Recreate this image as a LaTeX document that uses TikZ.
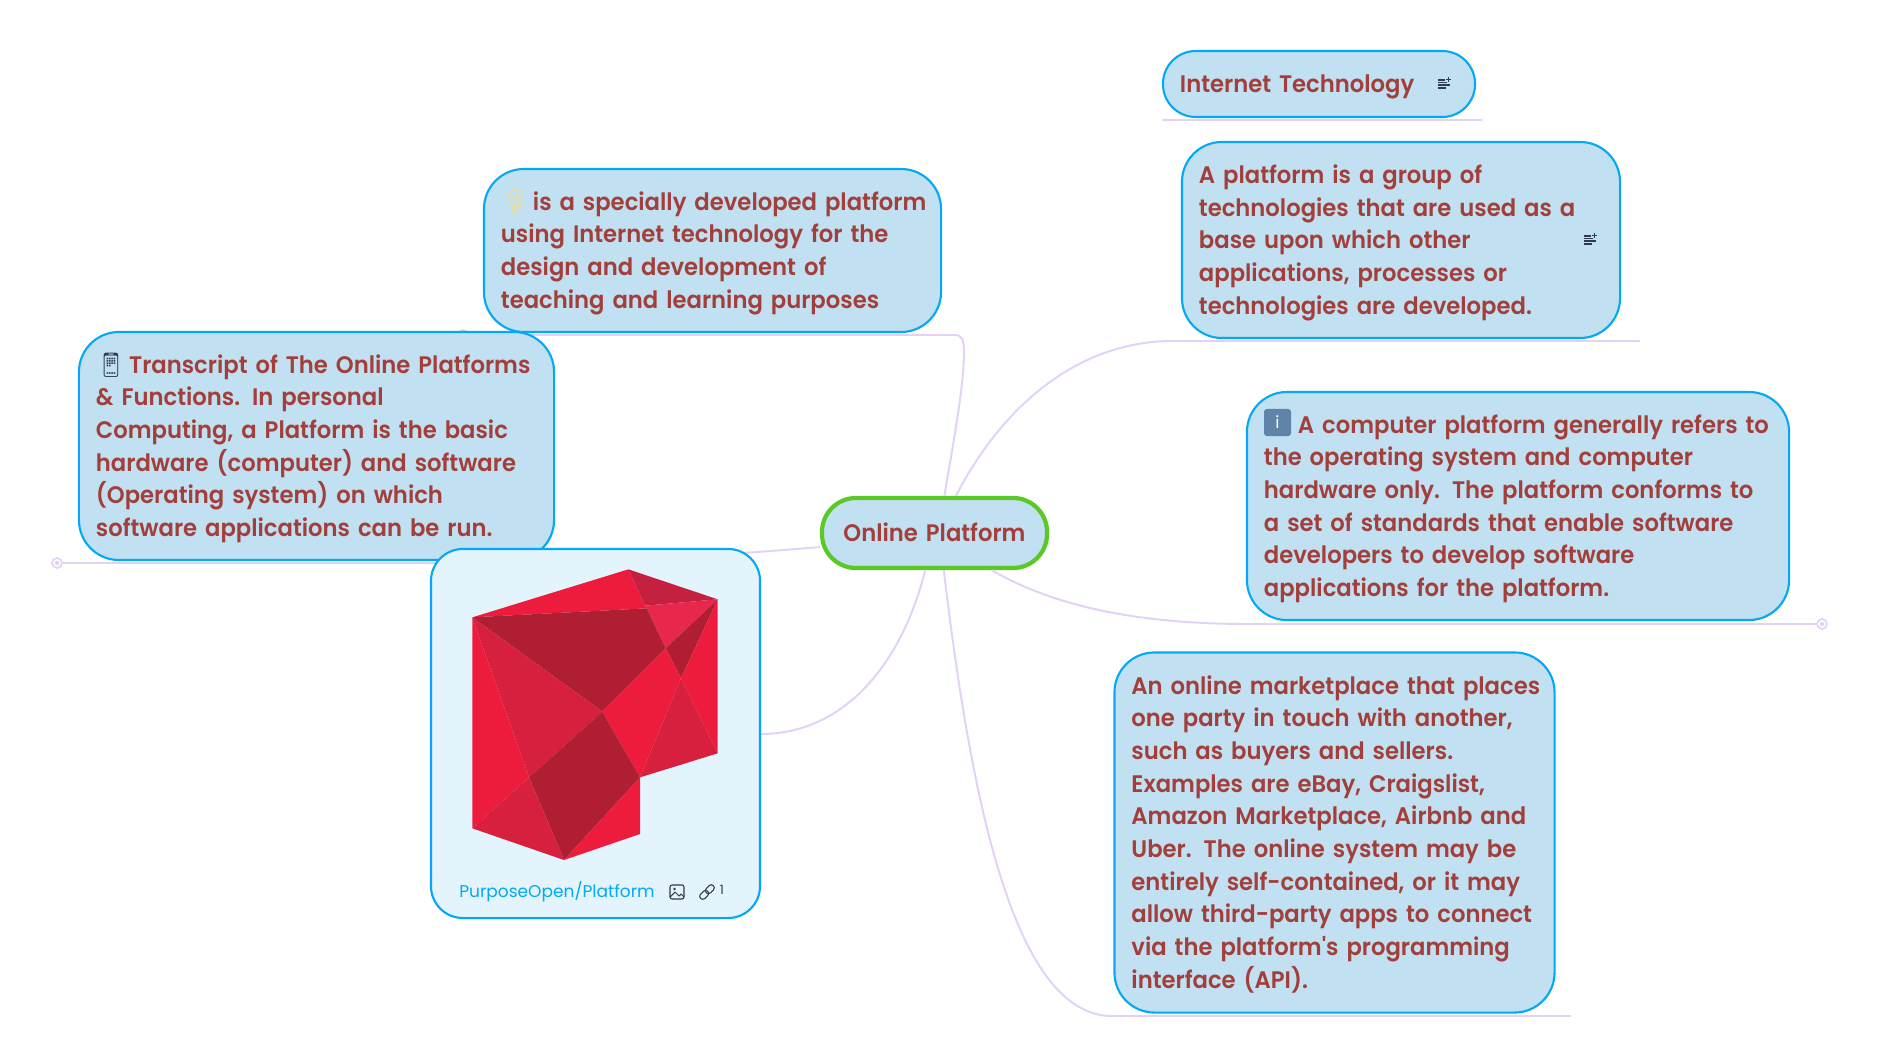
\documentclass[tikz,border=0pt]{standalone}
\usepackage{fontspec}
\usepackage{xcolor}
\usetikzlibrary{positioning,calc}
\newfontfamily\topicfont{Poppins SemiBold}[FakeStretch=0.95,WordSpace=0.75]
\newfontfamily\labelfont{Poppins}
\newfontfamily\emojifont{Noto Emoji}
\hyphenpenalty=10000
\exhyphenpenalty=10000
\newcommand{\linestrut}{\rule[-5.4pt]{0pt}{23.23pt}}
\definecolor{boxfill}{HTML}{C1E0F1}
\definecolor{boxline}{HTML}{03A9F4}
\definecolor{cardfill}{HTML}{E3F4FD}
\definecolor{hubline}{HTML}{5AC825}
\definecolor{topictext}{HTML}{A33F3A}
\definecolor{linklav}{HTML}{E2D2F6}
\definecolor{icondark}{HTML}{2F3B4C}
\definecolor{infoblue}{HTML}{5F84A8}
\definecolor{bulbpale}{HTML}{F5DC8A}
\definecolor{rubybright}{HTML}{EE1C3C}
\definecolor{rubymid}{HTML}{D6203D}
\definecolor{rubydark}{HTML}{B01E33}
\definecolor{rubyplum}{HTML}{C4203F}
\definecolor{rubylight}{HTML}{E8274D}
\tikzset{
  topic/.style={rectangle, draw=boxline, fill=boxfill, line width=1.5pt, rounded corners=1cm,
    text=topictext, align=left, inner xsep=0.425cm, inner ysep=0pt,
    execute at begin node=\linestrut, execute at end node=\linestrut,
    font=\topicfont\fontsize{17}{23.23}\selectfont},
  hub/.style={topic, draw=hubline, line width=3pt, rounded corners=0.85cm, align=center},
  imagecard/.style={rectangle, draw=boxline, fill=cardfill, line width=1.5pt, rounded corners=0.8cm},
  linkline/.style={draw=linklav, line width=1.4pt},
  endmark/.style={circle, draw=linklav, fill=white, line width=1.2pt, inner sep=0pt, minimum size=0.25cm,
    path picture={\fill[linklav] (path picture bounding box.center) circle (1.6pt);}},
  iconline/.style={draw=icondark, line width=0.75pt},
  noteicon/.pic={
    \draw[icondark, line width=0.9pt] (0,3)--(7,3) (0,5.7)--(9,5.7) (0,8)--(12,8) (0,11)--(8,11);
    \draw[icondark, line width=0.8pt] (10.5,0)--(10.5,5) (8,2.5)--(13,2.5);
  }
}
\begin{document}
\begin{tikzpicture}[x=0.025cm,y=-0.025cm]
\useasboundingbox (0,0) rectangle (1879,1063);

\node[hub, text width=4.775cm, minimum height=1.75cm] (central) at (934.5,533) {Online Platform};

\node[endmark] (dotleft) at (57,563) {};
\node[endmark] (dottop) at (463,335) {};
\node[endmark] (dotright) at (1822,624) {};
\coordinate (techleft) at (1162,120);
\coordinate (techright) at (1482,120);
\coordinate (specialcorner) at (955,335);
\coordinate (platformfoot) at (1173,341);
\coordinate (platformend) at (1640,341);
\coordinate (infofoot) at (1248,624);
\coordinate (marketfoot) at (1112,1016);
\coordinate (marketend) at (1571,1016);
\coordinate (cardside) at (761,734);

\draw[linkline] (techleft) -- (techright);
\draw[linkline] (central.75) .. controls (950,460) and (964,390) .. (964,352) .. controls (964,340) and (962,335) .. (specialcorner) -- (dottop);
\draw[linkline] (central.60) .. controls (1000,410) and (1075,341) .. (platformfoot) -- (platformend);
\draw[linkline] (central.-33) .. controls (1060,610) and (1150,624) .. (infofoot) -- (dotright);
\draw[linkline] (central.-76) .. controls (970,790) and (1012,1016) .. (marketfoot) -- (marketend);
\draw[linkline] (central.256) .. controls (900,670) and (840,734) .. (cardside);
\draw[linkline] (central.187) .. controls (700,557) and (600,563) .. (450,563) -- (dotleft);

\node[topic, text width=11.025cm, minimum height=5.7cm] (transcript) at (316.5,446) {\makebox[0.83cm][l]{\emojifont\textcolor{icondark}{📱}}Transcript of The Online Platforms\\
\& Functions. In personal\\
Computing, a Platform is the basic\\
hardware (computer) and software\\
(Operating system) on which\\
software applications can be run.};
\node[topic, text width=10.575cm, minimum height=4.075cm] (special) at (712.5,250.5) {\mbox{\makebox[0.8cm][l]{\emojifont\textcolor{bulbpale}{💡}}is a specially developed platform}\\
using Internet technology for the\\
design and development of\\
teaching and learning purposes};
\node[topic, text width=6.95cm, minimum height=1.65cm, rounded corners=0.82cm] (technology) at (1319,84) {Internet Technology};
\node[topic, text width=10.1cm, minimum height=4.9cm] (platform) at (1401,240) {A platform is a group of\\
technologies that are used as a\\
base upon which other\\
applications, processes or\\
technologies are developed.};
\node[topic, text width=12.7cm, minimum height=5.7cm] (computer) at (1518,506) {\mbox{\hspace{0.85cm}A computer platform generally refers to}\\
the operating system and computer\\
hardware only. The platform conforms to\\
a set of standards that enable software\\
developers to develop software\\
applications for the platform.};
\node[topic, text width=10.15cm, minimum height=9cm] (market) at (1334.5,832.5) {\mbox{An online marketplace that places}\\
one party in touch with another,\\
such as buyers and sellers.\\
Examples are eBay, Craigslist,\\
Amazon Marketplace, Airbnb and\\
Uber. The online system may be\\
entirely self-contained, or it may\\
allow third-party apps to connect\\
via the platform's programming\\
interface (API).};
\node[rectangle, fill=infoblue, rounded corners=2pt, text=white, inner sep=0pt, minimum size=0.675cm, font=\labelfont\fontsize{12}{12}\selectfont] (infomark) at (1277.5,422.5) {i};

\pic at (1438,77) {noteicon};
\pic at (1584,233) {noteicon};

\node[imagecard, minimum width=8.225cm, minimum height=9.225cm] (card) at (595.5,733.5) {};
\begin{scope}[shift={(420,540)},x=0.008333cm,y=-0.008333cm]
\coordinate (pa) at (157,232);
\coordinate (pb) at (625,88);
\coordinate (pc) at (893,178);
\coordinate (pd) at (893,640);
\coordinate (pe) at (660,712);
\coordinate (pf) at (660,882);
\coordinate (pg) at (432,960);
\coordinate (ph) at (157,865);
\coordinate (pi) at (680,205);
\coordinate (pj) at (737,325);
\coordinate (pk) at (783,415);
\coordinate (pl) at (547,515);
\coordinate (pm) at (327,712);
\coordinate (pn) at (675,197);
\fill[rubybright] (pa)--(pb)--(pn)--(pi)--cycle;
\fill[rubyplum] (pb)--(pc)--(pn)--cycle;
\fill[rubylight] (pn)--(pc)--(pj)--(pi)--cycle;
\fill[rubydark] (pa)--(pi)--(pj)--(pl)--cycle;
\fill[rubydark] (pc)--(pj)--(pk)--cycle;
\fill[rubybright] (pc)--(pk)--(pd)--cycle;
\fill[rubymid] (pk)--(pd)--(pe)--cycle;
\fill[rubybright] (pj)--(pk)--(pe)--(pl)--cycle;
\fill[rubymid] (pa)--(pl)--(pm)--cycle;
\fill[rubybright] (pa)--(pm)--(ph)--cycle;
\fill[rubydark] (pl)--(pe)--(pg)--(pm)--cycle;
\fill[rubymid] (pm)--(pg)--(ph)--cycle;
\fill[rubybright] (pe)--(pf)--(pg)--cycle;
\end{scope}
\node[anchor=west, inner sep=0pt, text=boxline, font=\labelfont\fontsize{12.1}{16}\selectfont] (cardlabel) at (459,892) {PurposeOpen/Platform};
\draw[iconline, rounded corners=1.5pt] (670,885) rectangle (684,899);
\fill[icondark] (674.5,889) circle (1pt);
\draw[iconline, line join=round] (670,897)--(675,892)--(679,896)--(681,894)--(684,897);
\begin{scope}[rotate around={45:(707,892)}]
\draw[iconline, rounded corners=2pt] (698,889) rectangle (708,895);
\draw[iconline, rounded corners=2pt] (706,889) rectangle (716,895);
\end{scope}
\node[inner sep=0pt, text=icondark, font=\labelfont\fontsize{9}{9}\selectfont] (linkcount) at (722,890) {1};
\end{tikzpicture}
\end{document}
